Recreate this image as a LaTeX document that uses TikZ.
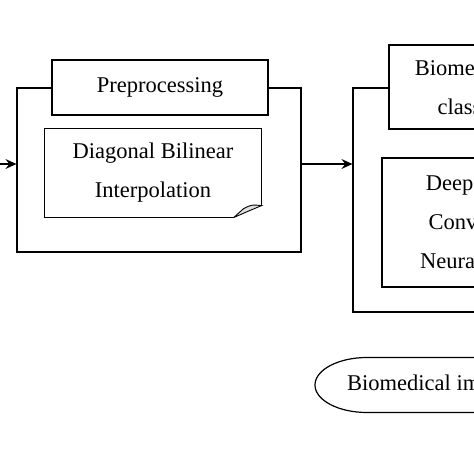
\documentclass[tikz,border=0pt]{standalone}
\usepackage{fontspec}
\setmainfont{Liberation Serif}
\usetikzlibrary{arrows.meta,positioning,calc}

\begin{document}
\begin{tikzpicture}[
  x=1pt, y=-1pt, >={Stealth[length=11pt,width=10pt,inset=4pt]},
  every node/.style={font=\fontsize{22.5}{39}\selectfont},
  frame/.style={draw, line width=1.2pt, inner sep=0pt},
  box/.style={draw, line width=1.2pt, fill=white, align=center, inner sep=0pt},
  link/.style={->, line width=1.2pt}
]
  \useasboundingbox (0,0) rectangle (474,474);
  \clip (0,0) rectangle (474,474);

  % outer frames
  \node[frame, minimum width=284pt, minimum height=164pt] (frame1) at (159,170) {};
  \node[frame, minimum width=340pt, minimum height=224pt] (frame2) at (523,200) {};

  % boxes sitting on the frames
  \node[box, minimum width=216pt, minimum height=55pt] (pre) at (160,87.5) {Preprocessing};
  \node[box, draw=none, fill=none, minimum width=216pt, minimum height=88pt] (diag) at (153,173)
       {Diagonal Bilinear\\Interpolation};
  \node[box, minimum width=216pt, minimum height=84pt] (cls) at (497,87) {Biomedical image\\classification};
  \node[box, minimum width=222pt, minimum height=129pt] (cnn) at (493,222.5)
       {Deep Learning\\Convolutional\\Neural Network};

  % note shape with folded corner
  \draw[line width=1.2pt] ($(diag.south east)+(0,-12)$) -- (diag.north east) -- (diag.north west)
       -- (diag.south west) -- ($(diag.south east)+(-28,0)$);
  \draw[line width=0.9pt, fill=gray!25] ($(diag.south east)+(-28,0)$) -- ($(diag.south east)+(-18,-9)$)
       .. controls ($(diag.south east)+(-10,-13)$) .. ($(diag.south east)+(0,-12)$)
       .. controls ($(diag.south east)+(-12,-7)$) .. ($(diag.south east)+(-28,0)$);

  % result terminator
  \node[anchor=west, inner sep=0pt] (res) at (347,385) {Biomedical image dataset};
  \draw[line width=1.2pt] ($(res.west)+(20,-27.5)$)
       arc[start angle=270, end angle=90, x radius=52, y radius=27.5]
       -- ($(res.east)+(20,27.5)$) -- ($(res.east)+(20,-27.5)$) -- cycle;

  % connectors
  \coordinate (src) at (-5,164);
  \draw[link] (src) -- (src -| frame1.west);
  \draw[link] (frame1.east |- src) -- (frame2.west |- src);
\end{tikzpicture}
\end{document}
